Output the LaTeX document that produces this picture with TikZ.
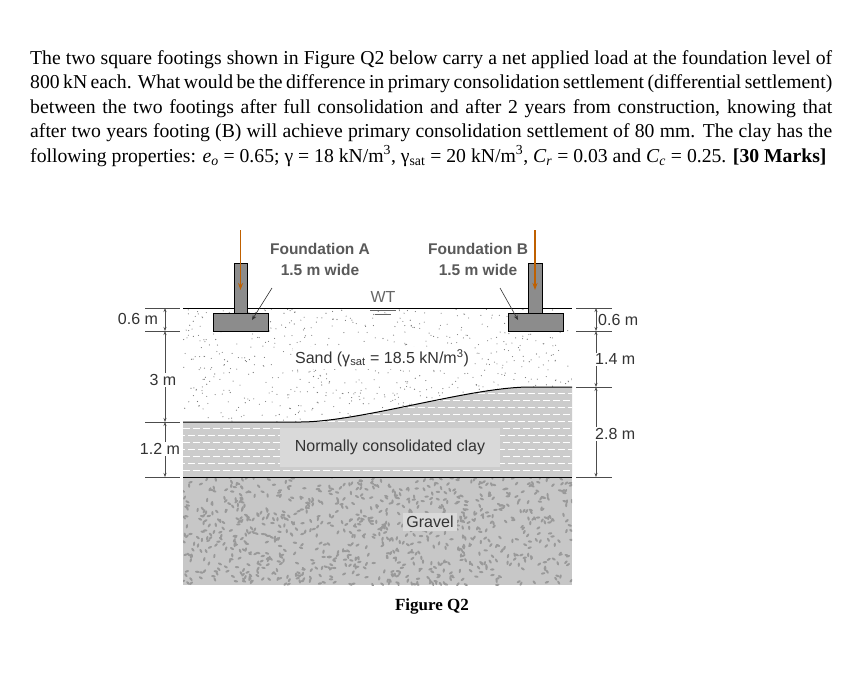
\documentclass[tikz,border=0pt]{standalone}
\usepackage{fontspec}
\setmainfont{Liberation Serif}
\setsansfont{Liberation Sans}
\usetikzlibrary{arrows.meta}
\begin{document}
\begin{tikzpicture}[x=1pt,y=-1pt,
  lbl/.style={font=\sffamily\fontsize{16}{18}\selectfont, text=black!80, inner sep=1pt},
  flbl/.style={font=\sffamily\bfseries\fontsize{15.5}{21}\selectfont, text=black!65, align=center, inner sep=1pt},
  dim/.style={black!70, line width=0.6pt, {Stealth[length=4pt,width=3pt]}-{Stealth[length=4pt,width=3pt]}},
  ext/.style={black!70, line width=0.6pt},
  foot/.style={fill=black!45, draw=black, line width=0.8pt},
  load/.style={draw=orange!75!black, line width=1.4pt, -{Stealth[length=7pt,width=5pt]}}]
\useasboundingbox (0,0) rectangle (864,689);
\fill[white] (0,0) rectangle (864,689);
% problem text
\node[anchor=north west, inner sep=0pt, text width=802pt, align=justify,
  font=\fontsize{19.7}{24.6}\selectfont] (q) at (30,50) {The two square footings shown in Figure Q2 below carry a net applied load at the foundation level of 800 kN each. What would be the difference in primary consolidation settlement (differential settlement) between the two footings after full consolidation and after 2 years from construction, knowing that after two years footing (B) will achieve primary consolidation settlement of 80 mm. The clay has the following properties: \textit{e}\textsubscript{\textit{o}} = 0.65; γ = 18 kN/m\textsuperscript{3}, γ\textsubscript{sat} = 20 kN/m\textsuperscript{3}, \textit{C}\textsubscript{\textit{r}} = 0.03 and \textit{C}\textsubscript{\textit{c}} = 0.25. \textbf{[30 Marks]}};
% gravel
\fill[black!22] (183,477) rectangle (572,585);
\begin{scope}
\clip (183,477) rectangle (572,585);
\pgfmathsetseed{7}
\foreach \i in {1,...,900}{
  \pgfmathsetmacro{\xx}{183+389*rnd}\pgfmathsetmacro{\yy}{477+108*rnd}\pgfmathsetmacro{\aa}{180*rnd}
  \fill[black!40, rotate around={\aa:(\xx,\yy)}] (\xx,\yy) ellipse (2.2 and 1.1);}
\end{scope}
% clay
\path[fill=black!20] (572,387) -- (530,387) .. controls (470,387) and (360,422) .. (300,422) -- (183,422) -- (183,477) -- (572,477) -- cycle;
\begin{scope}
\clip (572,387) -- (530,387) .. controls (470,387) and (360,422) .. (300,422) -- (183,422) -- (183,477) -- (572,477) -- cycle;
\foreach \yy [count=\k] in {393,400,...,475}{
  \pgfmathsetmacro{\ph}{mod(\k,2)*5}
  \draw[white, line width=0.6pt, dash pattern=on 7pt off 3pt, dash phase=\ph pt] (183,\yy) -- (572,\yy);}
\end{scope}
% sand dots
\begin{scope}
\clip (183,308) -- (572,308) -- (572,387) -- (530,387) .. controls (470,387) and (360,422) .. (300,422) -- (183,422) -- cycle;
\pgfmathsetseed{3}
\foreach \i in {1,...,700}{
  \pgfmathsetmacro{\xx}{183+389*rnd}\pgfmathsetmacro{\yy}{308+114*rnd}
  \fill[black!55] (\xx,\yy) circle (0.55);}
\end{scope}
\draw[line width=1pt] (572,387) -- (530,387) .. controls (470,387) and (360,422) .. (300,422) -- (183,422);
\draw[line width=1pt] (183,477) -- (572,477);
\draw[line width=1pt] (183,308) -- (572,308);
% labels in soil
\node[fill=black!15, minimum width=220pt, minimum height=39pt, lbl] (clay) at (390,447) {Normally consolidated clay};
\node[lbl, fill=black!15, inner sep=3pt] (gravel) at (430,522) {Gravel};
\node[lbl, fill=white, inner sep=2pt] (sand) at (382,358) {Sand (γ\textsubscript{sat} = 18.5 kN/m\textsuperscript{3})};
% water table
\node[lbl, text=black!60] (wt) at (383,297) {WT};
\draw[black!60, line width=0.7pt] (370,310) -- (396,310) (375,314) -- (391,314);
% footings
\draw[foot] (234,263) rectangle (247,313);
\draw[foot] (213,313) rectangle (268,331);
\draw[foot] (528,263) rectangle (542,313);
\draw[foot] (508,313) rectangle (563,331);
\coordinate (la) at (240.5,230); \coordinate (lae) at (240.5,290);
\coordinate (lb) at (535,230); \coordinate (lbe) at (535,290);
\draw[load] (la) -- (lae);
\draw[load] (lb) -- (lbe);
% foundation labels
\node[flbl] (fa) at (320,259) {Foundation A\\1.5 m wide};
\node[flbl] (fb) at (478,259) {Foundation B\\1.5 m wide};
\coordinate (pa) at (252,320); \coordinate (pb) at (518,320);
\draw[black!80, line width=0.6pt, -{Stealth[length=5pt,width=4pt]}] (272,288) -- (pa);
\draw[black!80, line width=0.6pt, -{Stealth[length=5pt,width=4pt]}] (500,288) -- (pb);
% left dims
\foreach \yy in {308,331,422,477}{\draw[ext] (145,\yy) -- (180,\yy);}
\draw[dim] (165,308) -- (165,331);
\draw[dim] (165,331) -- (165,422);
\draw[dim] (165,422) -- (165,477);
\node[lbl, fill=white, inner sep=1pt] (d1) at (138,319) {0.6 m};
\node[lbl, fill=white] (d2) at (163,380) {3 m};
\node[lbl, fill=white] (d3) at (160,449) {1.2 m};
% right dims
\foreach \yy in {308,331,387,477}{\draw[ext] (576,\yy) -- (612,\yy);}
\draw[dim] (596,308) -- (596,331);
\draw[dim] (596,331) -- (596,387);
\draw[dim] (596,387) -- (596,477);
\node[lbl, fill=white, anchor=west] (d4) at (597,320) {0.6 m};
\node[lbl, fill=white, anchor=west] (d5) at (594,359) {1.4 m};
\node[lbl, fill=white, anchor=west] (d6) at (594,434) {2.8 m};
% caption
\node[font=\bfseries\fontsize{17}{19}\selectfont] (cap) at (432,606) {Figure Q2};
\end{tikzpicture}
\end{document}
